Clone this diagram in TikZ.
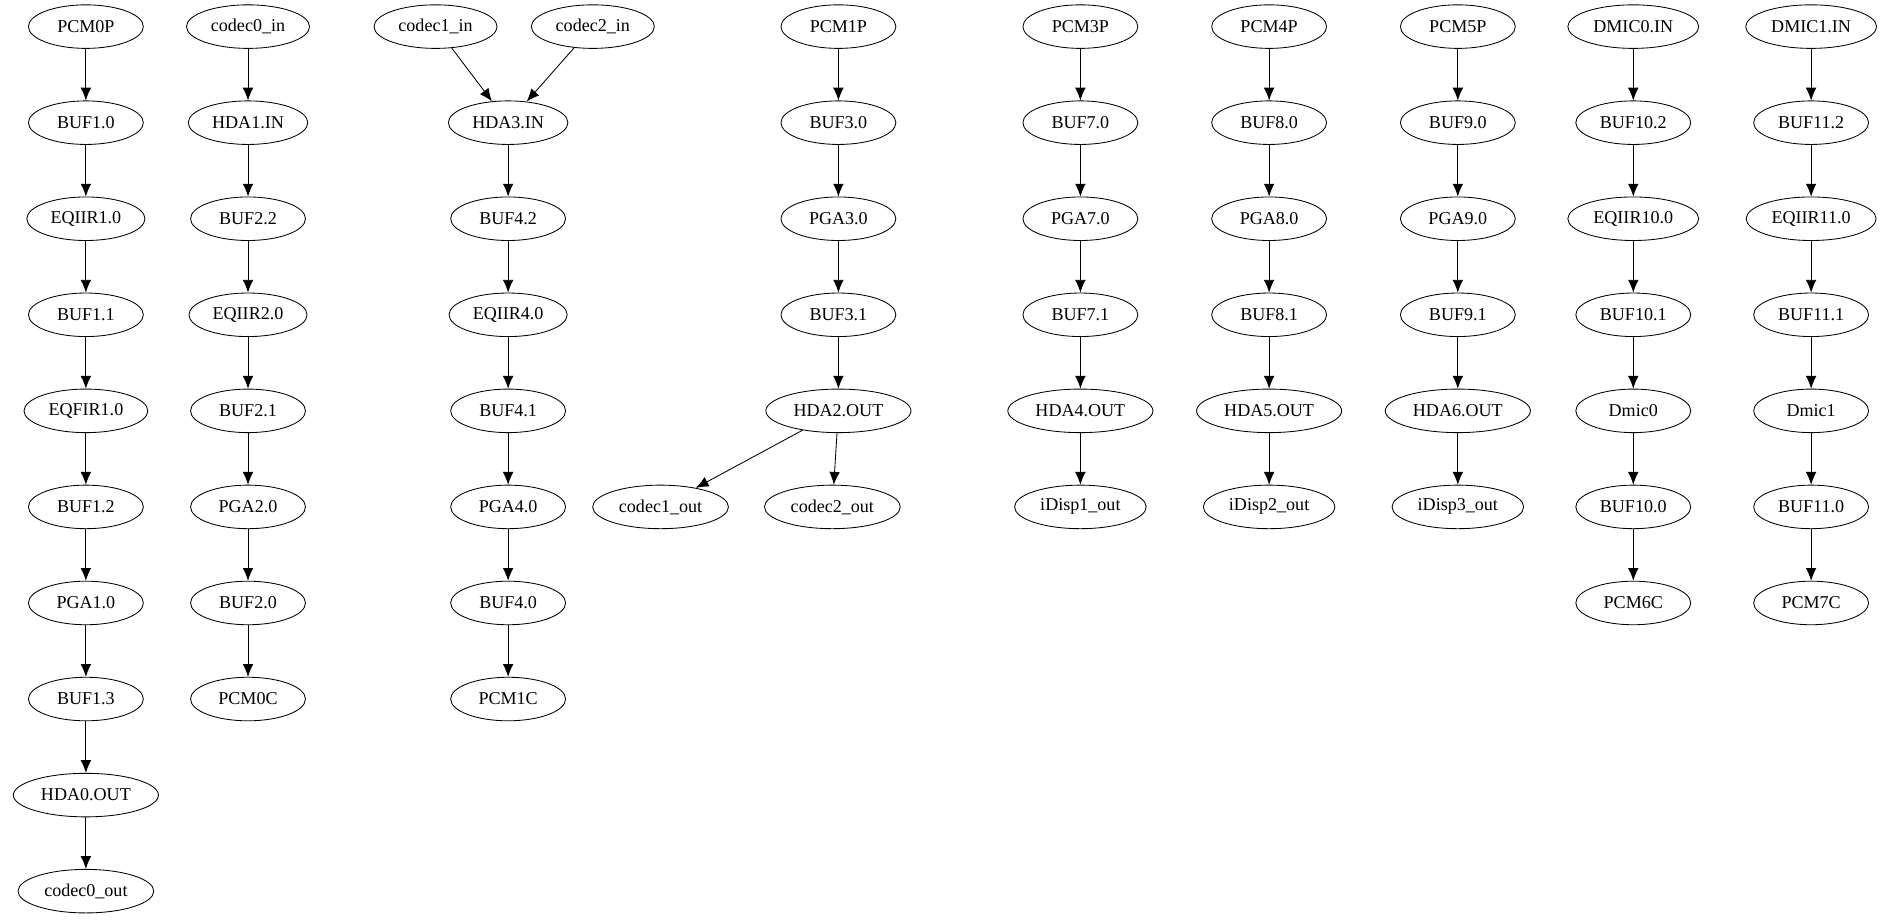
\documentclass[tikz,border=0pt]{standalone}
\usepackage{fontspec}
\setmainfont{Liberation Serif}
\usetikzlibrary{shapes.geometric,arrows.meta}
\begin{document}
\begin{tikzpicture}[x=0.02cm,y=-0.02cm,
  n/.style={ellipse,draw,font=\fontsize{8.5}{10}\selectfont,inner xsep=3pt,inner ysep=0pt,minimum height=0.72cm,minimum width=1.9cm},
  e/.style={-{Latex[length=6pt,width=5pt]}}]
\useasboundingbox (0,0) rectangle (1568,763);
% #1 id, #2 x, #3 first row, #4 labels
\def\col#1#2#3#4{\foreach \t [count=\i from #3] in {#4}{\node[n] (#1-\i) at (#2,{22+79.4*\i}) {\t};
  \ifnum\i>#3 \pgfmathtruncatemacro\j{\i-1}\draw[e] (#1-\j) -- (#1-\i);\fi}}
\col{a}{71}{0}{PCM0P,BUF1.0,EQIIR1.0,BUF1.1,EQFIR1.0,BUF1.2,PGA1.0,BUF1.3,HDA0.OUT,codec0\_out}
\col{b}{205}{0}{codec0\_in,HDA1.IN,BUF2.2,EQIIR2.0,BUF2.1,PGA2.0,BUF2.0,PCM0C}
\node[n] (c1i) at (360,22) {codec1\_in};
\node[n] (c2i) at (490,22) {codec2\_in};
\col{c}{420}{1}{HDA3.IN,BUF4.2,EQIIR4.0,BUF4.1,PGA4.0,BUF4.0,PCM1C}
\draw[e] (c1i) -- (c-1);
\draw[e] (c2i) -- (c-1);
\col{d}{693}{0}{PCM1P,BUF3.0,PGA3.0,BUF3.1,HDA2.OUT}
\node[n] (c1o) at (546,419) {codec1\_out};
\node[n] (c2o) at (688,419) {codec2\_out};
\draw[e] (d-4) -- (c1o);
\draw[e] (d-4) -- (c2o);
\col{f}{893}{0}{PCM3P,BUF7.0,PGA7.0,BUF7.1,HDA4.OUT,iDisp1\_out}
\col{g}{1049}{0}{PCM4P,BUF8.0,PGA8.0,BUF8.1,HDA5.OUT,iDisp2\_out}
\col{h}{1205}{0}{PCM5P,BUF9.0,PGA9.0,BUF9.1,HDA6.OUT,iDisp3\_out}
\col{k}{1350}{0}{DMIC0.IN,BUF10.2,EQIIR10.0,BUF10.1,Dmic0,BUF10.0,PCM6C}
\col{m}{1497}{0}{DMIC1.IN,BUF11.2,EQIIR11.0,BUF11.1,Dmic1,BUF11.0,PCM7C}
\end{tikzpicture}
\end{document}
